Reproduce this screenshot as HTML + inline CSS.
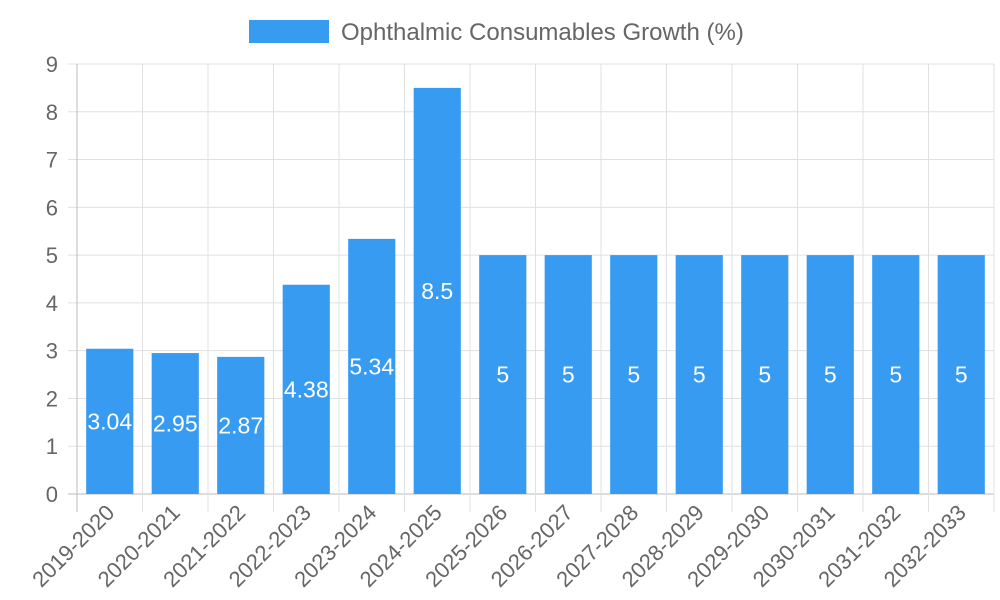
<!DOCTYPE html>
<html><head><meta charset="utf-8"><style>
html,body{margin:0;padding:0;background:#fff;}
svg{display:block;font-family:"Liberation Sans",sans-serif;}
</style></head><body>
<svg id="chart" width="1000" height="600" viewBox="0 0 1000 600">
<g>
<rect x="249" y="20" width="80" height="23" fill="#389bf2"/>
<text x="341" y="40" font-size="24" fill="#666">Ophthalmic Consumables Growth (%)</text>
</g>
<g id="grid"></g><g id="bars"></g><g id="axes"></g>
</svg>
<script>
const categories=["2019-2020","2020-2021","2021-2022","2022-2023","2023-2024","2024-2025","2025-2026","2026-2027","2027-2028","2028-2029","2029-2030","2030-2031","2031-2032","2032-2033"];
const values=[3.04,2.95,2.87,4.38,5.34,8.5,5,5,5,5,5,5,5,5];
const valueLabels=["3.04","2.95","2.87","4.38","5.34","8.5","5","5","5","5","5","5","5","5"];
const yTicks=[0,1,2,3,4,5,6,7,8,9];
const NS="http://www.w3.org/2000/svg";
const L=77,R=994,T=64,B=494,yMax=9;
const band=(R-L)/categories.length;
const y=v=>B-(v/yMax)*(B-T);
const x=i=>L+i*band;
function mk(tag,attrs,parent,text){const e=document.createElementNS(NS,tag);for(const k in attrs)e.setAttribute(k,attrs[k]);if(text!==undefined)e.textContent=text;parent.appendChild(e);return e;}
const grid=document.getElementById('grid'),bars=document.getElementById('bars'),axes=document.getElementById('axes');
yTicks.forEach(t=>{
  const l=mk('line',{x1:68,x2:R,y1:y(t),y2:y(t),stroke:t===0?'#bbb':'#e0e0e0','stroke-width':1},grid);
  
  
  const tx=mk('text',{x:58,y:y(t)+8,'font-size':22,fill:'#666','text-anchor':'end'},axes,String(t));
  
  
});
for(let i=0;i<=categories.length;i++){
  const l=mk('line',{x1:x(i),x2:x(i),y1:T,y2:B+18,stroke:i===0?'#bbb':'#e0e0e0','stroke-width':1},grid);
  
  
}
categories.forEach((c,i)=>{
  const bw=band*0.72,bx=x(i)+(band-bw)/2;
  const r=mk('rect',{x:bx,y:y(values[i]),width:bw,height:B-y(values[i]),fill:'#389bf2'},bars);
  
  
  const vt=mk('text',{x:x(i)+band/2,y:(y(values[i])+B)/2+8,'font-size':23,fill:'#fff','text-anchor':'middle'},bars,valueLabels[i]);
  
  
  const cx=x(i)+band/2+6,cy=B+20;
  const lt=mk('text',{x:cx,y:cy,'font-size':22,fill:'#666','text-anchor':'end',transform:`rotate(-45 ${cx} ${cy})`},axes,c);
  
  
});
</script>
</body></html>
